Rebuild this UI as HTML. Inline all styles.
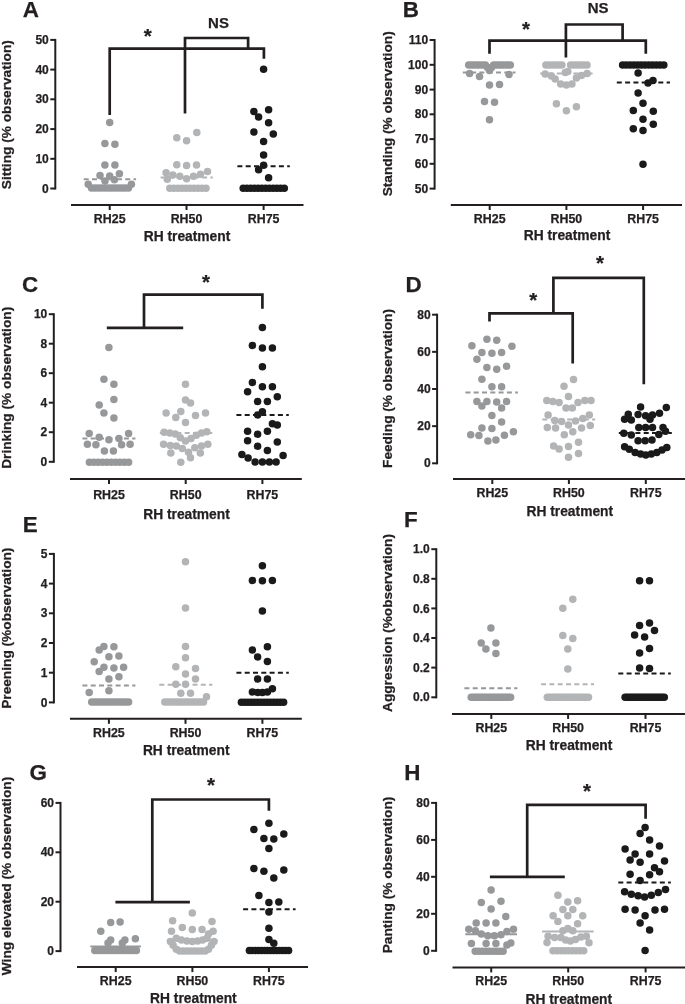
<!DOCTYPE html>
<html><head><meta charset="utf-8"><title>Figure</title>
<style>html,body{margin:0;padding:0;background:#fff}svg{display:block}</style></head>
<body>
<svg width="685" height="1004" viewBox="0 0 685 1004" font-family="'Liberation Sans', sans-serif" font-weight="bold" fill="#231f20" stroke="#231f20" stroke-width="0.25">
<rect width="685" height="1004" fill="#ffffff" stroke="none"/>
<text x="22.8" y="17.3" font-size="22.4">A</text>
<line x1="55.3" y1="38.9" x2="55.3" y2="189.5" stroke="#231f20" stroke-width="2"/>
<line x1="50.3" y1="39.9" x2="55.3" y2="39.9" stroke="#231f20" stroke-width="2"/>
<text x="48.8" y="44.0" font-size="12" text-anchor="end">50</text>
<line x1="50.3" y1="69.6" x2="55.3" y2="69.6" stroke="#231f20" stroke-width="2"/>
<text x="48.8" y="73.69999999999999" font-size="12" text-anchor="end">40</text>
<line x1="50.3" y1="99.3" x2="55.3" y2="99.3" stroke="#231f20" stroke-width="2"/>
<text x="48.8" y="103.39999999999999" font-size="12" text-anchor="end">30</text>
<line x1="50.3" y1="129.1" x2="55.3" y2="129.1" stroke="#231f20" stroke-width="2"/>
<text x="48.8" y="133.2" font-size="12" text-anchor="end">20</text>
<line x1="50.3" y1="158.8" x2="55.3" y2="158.8" stroke="#231f20" stroke-width="2"/>
<text x="48.8" y="162.9" font-size="12" text-anchor="end">10</text>
<line x1="50.3" y1="188.5" x2="55.3" y2="188.5" stroke="#231f20" stroke-width="2"/>
<text x="48.8" y="192.6" font-size="12" text-anchor="end">0</text>
<line x1="71" y1="205" x2="303.5" y2="205" stroke="#231f20" stroke-width="2"/>
<line x1="109.7" y1="205" x2="109.7" y2="210" stroke="#231f20" stroke-width="2"/>
<text x="109.7" y="223" font-size="12.4" text-anchor="middle">RH25</text>
<line x1="186.5" y1="205" x2="186.5" y2="210" stroke="#231f20" stroke-width="2"/>
<text x="186.5" y="223" font-size="12.4" text-anchor="middle">RH50</text>
<line x1="263.6" y1="205" x2="263.6" y2="210" stroke="#231f20" stroke-width="2"/>
<text x="263.6" y="223" font-size="12.4" text-anchor="middle">RH75</text>
<text transform="translate(10.7,114.7) rotate(-90)" font-size="13.7" text-anchor="middle">Sitting (% observation)</text>
<text x="187" y="241.3" font-size="13.8" text-anchor="middle">RH treatment</text>
<g fill="#96989a" stroke="none"><circle cx="109.7" cy="122.4" r="3.75"/><circle cx="104.9" cy="143.6" r="3.75"/><circle cx="114.9" cy="144.3" r="3.75"/><circle cx="104.9" cy="165" r="3.75"/><circle cx="114.9" cy="165" r="3.75"/><circle cx="100" cy="175.5" r="3.75"/><circle cx="109.7" cy="176" r="3.75"/><circle cx="119.4" cy="173.8" r="3.75"/><circle cx="105" cy="181" r="3.75"/><circle cx="114.4" cy="179.8" r="3.75"/><circle cx="88.2" cy="184.3" r="3.75"/><circle cx="131.4" cy="184.3" r="3.75"/><circle cx="91.5" cy="188" r="3.75"/><circle cx="94.86" cy="188" r="3.75"/><circle cx="98.23" cy="188" r="3.75"/><circle cx="101.59" cy="188" r="3.75"/><circle cx="104.95" cy="188" r="3.75"/><circle cx="108.32" cy="188" r="3.75"/><circle cx="111.68" cy="188" r="3.75"/><circle cx="115.05" cy="188" r="3.75"/><circle cx="118.41" cy="188" r="3.75"/><circle cx="121.77" cy="188" r="3.75"/><circle cx="125.14" cy="188" r="3.75"/><circle cx="128.5" cy="188" r="3.75"/></g>
<g fill="#b2b4b6" stroke="none"><circle cx="196.8" cy="132.6" r="3.75"/><circle cx="176.8" cy="137.8" r="3.75"/><circle cx="186.6" cy="140.8" r="3.75"/><circle cx="176.8" cy="164.8" r="3.75"/><circle cx="186.6" cy="165.5" r="3.75"/><circle cx="196.5" cy="165" r="3.75"/><circle cx="166.1" cy="172.8" r="3.75"/><circle cx="172.8" cy="175" r="3.75"/><circle cx="179.8" cy="176.3" r="3.75"/><circle cx="186.6" cy="178.8" r="3.75"/><circle cx="193.5" cy="176.3" r="3.75"/><circle cx="200.5" cy="174.3" r="3.75"/><circle cx="207.5" cy="171.5" r="3.75"/><circle cx="167.3" cy="179.3" r="3.75"/><circle cx="169.8" cy="188.3" r="3.75"/><circle cx="173.82" cy="188.3" r="3.75"/><circle cx="177.84" cy="188.3" r="3.75"/><circle cx="181.87" cy="188.3" r="3.75"/><circle cx="185.89" cy="188.3" r="3.75"/><circle cx="189.91" cy="188.3" r="3.75"/><circle cx="193.93" cy="188.3" r="3.75"/><circle cx="197.96" cy="188.3" r="3.75"/><circle cx="201.98" cy="188.3" r="3.75"/><circle cx="206.0" cy="188.3" r="3.75"/></g>
<g fill="#1a1a1a" stroke="none"><circle cx="263.6" cy="69.2" r="3.75"/><circle cx="253.9" cy="111.6" r="3.75"/><circle cx="268.6" cy="109.8" r="3.75"/><circle cx="258.6" cy="117.1" r="3.75"/><circle cx="268.6" cy="122.8" r="3.75"/><circle cx="253.9" cy="132.1" r="3.75"/><circle cx="273.3" cy="134" r="3.75"/><circle cx="263.6" cy="141.5" r="3.75"/><circle cx="263.6" cy="155" r="3.75"/><circle cx="263.6" cy="165.3" r="3.75"/><circle cx="258.6" cy="169.8" r="3.75"/><circle cx="268.6" cy="177.7" r="3.75"/><circle cx="243.2" cy="188.2" r="3.75"/><circle cx="246.94" cy="188.2" r="3.75"/><circle cx="250.67" cy="188.2" r="3.75"/><circle cx="254.41" cy="188.2" r="3.75"/><circle cx="258.15" cy="188.2" r="3.75"/><circle cx="261.88" cy="188.2" r="3.75"/><circle cx="265.62" cy="188.2" r="3.75"/><circle cx="269.35" cy="188.2" r="3.75"/><circle cx="273.09" cy="188.2" r="3.75"/><circle cx="276.83" cy="188.2" r="3.75"/><circle cx="280.56" cy="188.2" r="3.75"/><circle cx="284.3" cy="188.2" r="3.75"/></g>
<line x1="83.7" y1="179.3" x2="136.1" y2="179.3" stroke="#96989a" stroke-width="2" stroke-dasharray="5 3.3"/>
<line x1="160.6" y1="177.5" x2="212.8" y2="177.5" stroke="#b2b4b6" stroke-width="2" stroke-dasharray="5 3.3"/>
<line x1="237.4" y1="166.3" x2="289.8" y2="166.3" stroke="#1a1a1a" stroke-width="2" stroke-dasharray="5 3.3"/>
<polyline points="109.7,115 109.7,48.7 263.9,48.7 263.9,58.7" fill="none" stroke="#231f20" stroke-width="2.7"/>
<polyline points="185,113.6 185,38 248.1,38 248.1,48.7" fill="none" stroke="#231f20" stroke-width="2.7"/>
<text x="147.8" y="42.8" font-size="20.5" text-anchor="middle">*</text>
<text x="218.5" y="27.5" font-size="15" text-anchor="middle">NS</text>
<text x="402.7" y="17.4" font-size="22.4">B</text>
<line x1="434.6" y1="39" x2="434.6" y2="189.6" stroke="#231f20" stroke-width="2"/>
<line x1="429.6" y1="40" x2="434.6" y2="40" stroke="#231f20" stroke-width="2"/>
<text x="428.1" y="44.1" font-size="12" text-anchor="end">110</text>
<line x1="429.6" y1="64.8" x2="434.6" y2="64.8" stroke="#231f20" stroke-width="2"/>
<text x="428.1" y="68.89999999999999" font-size="12" text-anchor="end">100</text>
<line x1="429.6" y1="89.6" x2="434.6" y2="89.6" stroke="#231f20" stroke-width="2"/>
<text x="428.1" y="93.69999999999999" font-size="12" text-anchor="end">90</text>
<line x1="429.6" y1="114.3" x2="434.6" y2="114.3" stroke="#231f20" stroke-width="2"/>
<text x="428.1" y="118.39999999999999" font-size="12" text-anchor="end">80</text>
<line x1="429.6" y1="139.1" x2="434.6" y2="139.1" stroke="#231f20" stroke-width="2"/>
<text x="428.1" y="143.2" font-size="12" text-anchor="end">70</text>
<line x1="429.6" y1="163.8" x2="434.6" y2="163.8" stroke="#231f20" stroke-width="2"/>
<text x="428.1" y="167.9" font-size="12" text-anchor="end">60</text>
<line x1="429.6" y1="188.6" x2="434.6" y2="188.6" stroke="#231f20" stroke-width="2"/>
<text x="428.1" y="192.7" font-size="12" text-anchor="end">50</text>
<line x1="450.8" y1="205" x2="682" y2="205" stroke="#231f20" stroke-width="2"/>
<line x1="489.7" y1="205" x2="489.7" y2="210" stroke="#231f20" stroke-width="2"/>
<text x="489.7" y="223" font-size="12.4" text-anchor="middle">RH25</text>
<line x1="566.4" y1="205" x2="566.4" y2="210" stroke="#231f20" stroke-width="2"/>
<text x="566.4" y="223" font-size="12.4" text-anchor="middle">RH50</text>
<line x1="643.1" y1="205" x2="643.1" y2="210" stroke="#231f20" stroke-width="2"/>
<text x="643.1" y="223" font-size="12.4" text-anchor="middle">RH75</text>
<text transform="translate(392,113.8) rotate(-90)" font-size="13.7" text-anchor="middle">Standing (% observation)</text>
<text x="567" y="240.2" font-size="13.8" text-anchor="middle">RH treatment</text>
<g fill="#96989a" stroke="none"><circle cx="469.6" cy="73.6" r="3.75"/><circle cx="479.5" cy="76.6" r="3.75"/><circle cx="509" cy="74.4" r="3.75"/><circle cx="489.5" cy="84.9" r="3.75"/><circle cx="499.5" cy="84.4" r="3.75"/><circle cx="484.5" cy="101.6" r="3.75"/><circle cx="494.5" cy="102.3" r="3.75"/><circle cx="489.5" cy="119.8" r="3.75"/><circle cx="489.5" cy="70.6" r="3.75"/><circle cx="487.5" cy="67.5" r="3.75"/><circle cx="491.5" cy="67.5" r="3.75"/><circle cx="468.7" cy="64.9" r="3.75"/><circle cx="471.48" cy="64.9" r="3.75"/><circle cx="474.27" cy="64.9" r="3.75"/><circle cx="477.05" cy="64.9" r="3.75"/><circle cx="479.83" cy="64.9" r="3.75"/><circle cx="482.62" cy="64.9" r="3.75"/><circle cx="485.4" cy="64.9" r="3.75"/><circle cx="493.6" cy="64.9" r="3.75"/><circle cx="496.38" cy="64.9" r="3.75"/><circle cx="499.17" cy="64.9" r="3.75"/><circle cx="501.95" cy="64.9" r="3.75"/><circle cx="504.73" cy="64.9" r="3.75"/><circle cx="507.52" cy="64.9" r="3.75"/><circle cx="510.3" cy="64.9" r="3.75"/></g>
<g fill="#b2b4b6" stroke="none"><circle cx="565.3" cy="72.6" r="3.75"/><circle cx="567.8" cy="71.4" r="3.75"/><circle cx="545.2" cy="74.1" r="3.75"/><circle cx="551.4" cy="76.1" r="3.75"/><circle cx="555.2" cy="79.1" r="3.75"/><circle cx="560.7" cy="84.1" r="3.75"/><circle cx="566.4" cy="84.9" r="3.75"/><circle cx="571.9" cy="84.1" r="3.75"/><circle cx="576.4" cy="77.9" r="3.75"/><circle cx="581.4" cy="75.4" r="3.75"/><circle cx="587.1" cy="73.6" r="3.75"/><circle cx="556.4" cy="103.7" r="3.75"/><circle cx="566.4" cy="110.7" r="3.75"/><circle cx="576.4" cy="106.7" r="3.75"/><circle cx="545.9" cy="64.9" r="3.75"/><circle cx="549.1" cy="64.9" r="3.75"/><circle cx="552.3" cy="64.9" r="3.75"/><circle cx="555.5" cy="64.9" r="3.75"/><circle cx="558.7" cy="64.9" r="3.75"/><circle cx="561.9" cy="64.9" r="3.75"/><circle cx="570.6" cy="64.9" r="3.75"/><circle cx="573.88" cy="64.9" r="3.75"/><circle cx="577.16" cy="64.9" r="3.75"/><circle cx="580.44" cy="64.9" r="3.75"/><circle cx="583.72" cy="64.9" r="3.75"/><circle cx="587.0" cy="64.9" r="3.75"/></g>
<g fill="#1a1a1a" stroke="none"><circle cx="638.1" cy="72.9" r="3.75"/><circle cx="653" cy="80.4" r="3.75"/><circle cx="648" cy="83.1" r="3.75"/><circle cx="638.1" cy="92.9" r="3.75"/><circle cx="643" cy="103.2" r="3.75"/><circle cx="633.3" cy="110.5" r="3.75"/><circle cx="653.3" cy="111.2" r="3.75"/><circle cx="643" cy="119.2" r="3.75"/><circle cx="653.3" cy="124.2" r="3.75"/><circle cx="633.3" cy="128.7" r="3.75"/><circle cx="643" cy="130.5" r="3.75"/><circle cx="643" cy="164.2" r="3.75"/><circle cx="622.6" cy="65" r="3.75"/><circle cx="626.35" cy="65" r="3.75"/><circle cx="630.09" cy="65" r="3.75"/><circle cx="633.84" cy="65" r="3.75"/><circle cx="637.58" cy="65" r="3.75"/><circle cx="641.33" cy="65" r="3.75"/><circle cx="645.07" cy="65" r="3.75"/><circle cx="648.82" cy="65" r="3.75"/><circle cx="652.56" cy="65" r="3.75"/><circle cx="656.31" cy="65" r="3.75"/><circle cx="660.05" cy="65" r="3.75"/><circle cx="663.8" cy="65" r="3.75"/></g>
<line x1="462.8" y1="72.4" x2="515.5" y2="72.4" stroke="#96989a" stroke-width="2" stroke-dasharray="5 3.3"/>
<line x1="540.2" y1="73.6" x2="592.6" y2="73.6" stroke="#b2b4b6" stroke-width="2" stroke-dasharray="5 3.3"/>
<line x1="616.8" y1="82.4" x2="670" y2="82.4" stroke="#1a1a1a" stroke-width="2" stroke-dasharray="5 3.3"/>
<polyline points="489.5,53.7 489.5,40.7 645.8,40.7 645.8,53.7" fill="none" stroke="#231f20" stroke-width="2.7"/>
<polyline points="565.9,57.4 565.9,24.5 622.6,24.5 622.6,40.7" fill="none" stroke="#231f20" stroke-width="2.7"/>
<text x="526" y="35.8" font-size="20.5" text-anchor="middle">*</text>
<text x="598.2" y="13" font-size="15" text-anchor="middle">NS</text>
<text x="22" y="291.7" font-size="22.4">C</text>
<line x1="53.8" y1="313.2" x2="53.8" y2="462.8" stroke="#231f20" stroke-width="2"/>
<line x1="48.8" y1="314.2" x2="53.8" y2="314.2" stroke="#231f20" stroke-width="2"/>
<text x="47.3" y="318.3" font-size="12" text-anchor="end">10</text>
<line x1="48.8" y1="343.7" x2="53.8" y2="343.7" stroke="#231f20" stroke-width="2"/>
<text x="47.3" y="347.8" font-size="12" text-anchor="end">8</text>
<line x1="48.8" y1="373.2" x2="53.8" y2="373.2" stroke="#231f20" stroke-width="2"/>
<text x="47.3" y="377.3" font-size="12" text-anchor="end">6</text>
<line x1="48.8" y1="402.7" x2="53.8" y2="402.7" stroke="#231f20" stroke-width="2"/>
<text x="47.3" y="406.8" font-size="12" text-anchor="end">4</text>
<line x1="48.8" y1="432.2" x2="53.8" y2="432.2" stroke="#231f20" stroke-width="2"/>
<text x="47.3" y="436.3" font-size="12" text-anchor="end">2</text>
<line x1="48.8" y1="461.8" x2="53.8" y2="461.8" stroke="#231f20" stroke-width="2"/>
<text x="47.3" y="465.90000000000003" font-size="12" text-anchor="end">0</text>
<line x1="70" y1="479" x2="301.8" y2="479" stroke="#231f20" stroke-width="2"/>
<line x1="109" y1="479" x2="109" y2="484" stroke="#231f20" stroke-width="2"/>
<text x="109" y="498.7" font-size="12.4" text-anchor="middle">RH25</text>
<line x1="185.7" y1="479" x2="185.7" y2="484" stroke="#231f20" stroke-width="2"/>
<text x="185.7" y="498.7" font-size="12.4" text-anchor="middle">RH50</text>
<line x1="262.4" y1="479" x2="262.4" y2="484" stroke="#231f20" stroke-width="2"/>
<text x="262.4" y="498.7" font-size="12.4" text-anchor="middle">RH75</text>
<text transform="translate(10.6,387.8) rotate(-90)" font-size="13.7" text-anchor="middle">Drinking (% observation)</text>
<text x="186.5" y="518.5" font-size="13.8" text-anchor="middle">RH treatment</text>
<g fill="#96989a" stroke="none"><circle cx="108.9" cy="347.5" r="3.75"/><circle cx="103.9" cy="379.2" r="3.75"/><circle cx="113.9" cy="384.2" r="3.75"/><circle cx="113.9" cy="399.4" r="3.75"/><circle cx="99.2" cy="404.9" r="3.75"/><circle cx="103.9" cy="413.1" r="3.75"/><circle cx="113.9" cy="417.9" r="3.75"/><circle cx="89.2" cy="433.6" r="3.75"/><circle cx="128.6" cy="433.6" r="3.75"/><circle cx="99.2" cy="437.3" r="3.75"/><circle cx="108.9" cy="439.8" r="3.75"/><circle cx="118.9" cy="438.6" r="3.75"/><circle cx="87.4" cy="444.3" r="3.75"/><circle cx="95.9" cy="444.8" r="3.75"/><circle cx="121.6" cy="444.8" r="3.75"/><circle cx="130.1" cy="444.3" r="3.75"/><circle cx="104.4" cy="451.1" r="3.75"/><circle cx="113.4" cy="451.1" r="3.75"/><circle cx="89.4" cy="462.3" r="3.75"/><circle cx="93.76" cy="462.3" r="3.75"/><circle cx="98.11" cy="462.3" r="3.75"/><circle cx="102.47" cy="462.3" r="3.75"/><circle cx="106.82" cy="462.3" r="3.75"/><circle cx="111.18" cy="462.3" r="3.75"/><circle cx="115.53" cy="462.3" r="3.75"/><circle cx="119.89" cy="462.3" r="3.75"/><circle cx="124.24" cy="462.3" r="3.75"/><circle cx="128.6" cy="462.3" r="3.75"/></g>
<g fill="#b2b4b6" stroke="none"><circle cx="185.5" cy="384.2" r="3.75"/><circle cx="185.5" cy="399.9" r="3.75"/><circle cx="190.5" cy="402.9" r="3.75"/><circle cx="166.1" cy="413.1" r="3.75"/><circle cx="180.8" cy="411.4" r="3.75"/><circle cx="175.8" cy="417.4" r="3.75"/><circle cx="195.5" cy="415.4" r="3.75"/><circle cx="205.5" cy="413.1" r="3.75"/><circle cx="185.5" cy="422.4" r="3.75"/><circle cx="164.1" cy="432.3" r="3.75"/><circle cx="169.8" cy="433.1" r="3.75"/><circle cx="175.3" cy="434.1" r="3.75"/><circle cx="180.3" cy="437.8" r="3.75"/><circle cx="185.5" cy="441.1" r="3.75"/><circle cx="191" cy="438.6" r="3.75"/><circle cx="196.3" cy="435.3" r="3.75"/><circle cx="201.5" cy="433.1" r="3.75"/><circle cx="206.8" cy="431.8" r="3.75"/><circle cx="163.6" cy="444.3" r="3.75"/><circle cx="170.3" cy="445.6" r="3.75"/><circle cx="176.3" cy="446.1" r="3.75"/><circle cx="182.3" cy="448.6" r="3.75"/><circle cx="188.5" cy="452.3" r="3.75"/><circle cx="194.8" cy="447.8" r="3.75"/><circle cx="201.5" cy="446.1" r="3.75"/><circle cx="207.8" cy="444.3" r="3.75"/><circle cx="170.8" cy="453.1" r="3.75"/><circle cx="190.5" cy="457.8" r="3.75"/><circle cx="200.3" cy="453.1" r="3.75"/><circle cx="180.8" cy="462.3" r="3.75"/></g>
<g fill="#1a1a1a" stroke="none"><circle cx="262.4" cy="327.4" r="3.75"/><circle cx="252.4" cy="345.4" r="3.75"/><circle cx="262.4" cy="347.9" r="3.75"/><circle cx="272.4" cy="347.9" r="3.75"/><circle cx="262.4" cy="366.8" r="3.75"/><circle cx="252.4" cy="382.4" r="3.75"/><circle cx="262.4" cy="386.7" r="3.75"/><circle cx="272.4" cy="386.7" r="3.75"/><circle cx="247.6" cy="391.7" r="3.75"/><circle cx="277.3" cy="396.7" r="3.75"/><circle cx="257.6" cy="401.6" r="3.75"/><circle cx="267.4" cy="401.6" r="3.75"/><circle cx="262.4" cy="411.7" r="3.75"/><circle cx="257.6" cy="415" r="3.75"/><circle cx="272.4" cy="423.7" r="3.75"/><circle cx="277.3" cy="425" r="3.75"/><circle cx="247.6" cy="431.2" r="3.75"/><circle cx="267.4" cy="431.2" r="3.75"/><circle cx="257.6" cy="434.2" r="3.75"/><circle cx="247.6" cy="440.7" r="3.75"/><circle cx="277.3" cy="441.9" r="3.75"/><circle cx="257.6" cy="446.2" r="3.75"/><circle cx="267.4" cy="450.6" r="3.75"/><circle cx="241.9" cy="454.4" r="3.75"/><circle cx="283.1" cy="455.6" r="3.75"/><circle cx="248.1" cy="457.9" r="3.75"/><circle cx="255.1" cy="461.9" r="3.75"/><circle cx="262.4" cy="461.9" r="3.75"/><circle cx="269.4" cy="461.9" r="3.75"/><circle cx="276.1" cy="461.9" r="3.75"/></g>
<line x1="82.4" y1="438.6" x2="135.4" y2="438.6" stroke="#96989a" stroke-width="2" stroke-dasharray="5 3.3"/>
<line x1="159.8" y1="433.1" x2="212.3" y2="433.1" stroke="#b2b4b6" stroke-width="2" stroke-dasharray="5 3.3"/>
<line x1="236.4" y1="415" x2="288.8" y2="415" stroke="#1a1a1a" stroke-width="2" stroke-dasharray="5 3.3"/>
<polyline points="106.8,327.9 183.2,327.9" fill="none" stroke="#231f20" stroke-width="2.7"/>
<polyline points="144,327.9 144,294.6 262.4,294.6 262.4,308.7" fill="none" stroke="#231f20" stroke-width="2.7"/>
<text x="206" y="288.8" font-size="20.5" text-anchor="middle">*</text>
<text x="405.4" y="291.7" font-size="22.4">D</text>
<line x1="437.1" y1="313.7" x2="437.1" y2="464.3" stroke="#231f20" stroke-width="2"/>
<line x1="432.1" y1="314.7" x2="437.1" y2="314.7" stroke="#231f20" stroke-width="2"/>
<text x="430.6" y="318.8" font-size="12" text-anchor="end">80</text>
<line x1="432.1" y1="351.85" x2="437.1" y2="351.85" stroke="#231f20" stroke-width="2"/>
<text x="430.6" y="355.95000000000005" font-size="12" text-anchor="end">60</text>
<line x1="432.1" y1="389" x2="437.1" y2="389" stroke="#231f20" stroke-width="2"/>
<text x="430.6" y="393.1" font-size="12" text-anchor="end">40</text>
<line x1="432.1" y1="426.15" x2="437.1" y2="426.15" stroke="#231f20" stroke-width="2"/>
<text x="430.6" y="430.25" font-size="12" text-anchor="end">20</text>
<line x1="432.1" y1="463.3" x2="437.1" y2="463.3" stroke="#231f20" stroke-width="2"/>
<text x="430.6" y="467.40000000000003" font-size="12" text-anchor="end">0</text>
<line x1="453" y1="479" x2="685" y2="479" stroke="#231f20" stroke-width="2"/>
<line x1="492.3" y1="479" x2="492.3" y2="484" stroke="#231f20" stroke-width="2"/>
<text x="492.3" y="497.3" font-size="12.4" text-anchor="middle">RH25</text>
<line x1="568.9" y1="479" x2="568.9" y2="484" stroke="#231f20" stroke-width="2"/>
<text x="568.9" y="497.3" font-size="12.4" text-anchor="middle">RH50</text>
<line x1="645.8" y1="479" x2="645.8" y2="484" stroke="#231f20" stroke-width="2"/>
<text x="645.8" y="497.3" font-size="12.4" text-anchor="middle">RH75</text>
<text transform="translate(392,388.5) rotate(-90)" font-size="13.7" text-anchor="middle">Feeding (% observation)</text>
<text x="569.8" y="515.6" font-size="13.8" text-anchor="middle">RH treatment</text>
<g fill="#96989a" stroke="none"><circle cx="486.9" cy="339.2" r="3.75"/><circle cx="496.7" cy="340.2" r="3.75"/><circle cx="471.9" cy="345.7" r="3.75"/><circle cx="511.9" cy="346.2" r="3.75"/><circle cx="481.9" cy="352.5" r="3.75"/><circle cx="491.9" cy="353.2" r="3.75"/><circle cx="501.6" cy="352.5" r="3.75"/><circle cx="476.9" cy="359.2" r="3.75"/><circle cx="486.9" cy="367.4" r="3.75"/><circle cx="496.7" cy="369.2" r="3.75"/><circle cx="506.6" cy="366.2" r="3.75"/><circle cx="481.9" cy="379.2" r="3.75"/><circle cx="491.9" cy="386.7" r="3.75"/><circle cx="501.6" cy="386.7" r="3.75"/><circle cx="476.9" cy="401.6" r="3.75"/><circle cx="486.9" cy="401.6" r="3.75"/><circle cx="496.7" cy="401.9" r="3.75"/><circle cx="506.6" cy="401.6" r="3.75"/><circle cx="481.9" cy="406.1" r="3.75"/><circle cx="501.6" cy="408.1" r="3.75"/><circle cx="491.9" cy="415.4" r="3.75"/><circle cx="501.6" cy="421.9" r="3.75"/><circle cx="481.9" cy="427.9" r="3.75"/><circle cx="491.9" cy="428.6" r="3.75"/><circle cx="470.7" cy="434.8" r="3.75"/><circle cx="478.9" cy="435.6" r="3.75"/><circle cx="504.4" cy="435.3" r="3.75"/><circle cx="513.4" cy="431.8" r="3.75"/><circle cx="487.9" cy="441.1" r="3.75"/><circle cx="495.9" cy="440.1" r="3.75"/></g>
<g fill="#b2b4b6" stroke="none"><circle cx="573.5" cy="379.4" r="3.75"/><circle cx="564" cy="386.2" r="3.75"/><circle cx="568.5" cy="396.6" r="3.75"/><circle cx="546.8" cy="400.4" r="3.75"/><circle cx="552.8" cy="401.6" r="3.75"/><circle cx="559.1" cy="402.4" r="3.75"/><circle cx="578" cy="402.4" r="3.75"/><circle cx="584.8" cy="400.6" r="3.75"/><circle cx="591" cy="400.4" r="3.75"/><circle cx="566" cy="408.1" r="3.75"/><circle cx="572.3" cy="408.1" r="3.75"/><circle cx="548.1" cy="414.9" r="3.75"/><circle cx="589.3" cy="414.9" r="3.75"/><circle cx="554.8" cy="420.4" r="3.75"/><circle cx="561.6" cy="421.6" r="3.75"/><circle cx="575.5" cy="421.1" r="3.75"/><circle cx="582.8" cy="418.6" r="3.75"/><circle cx="547.3" cy="427.4" r="3.75"/><circle cx="555.6" cy="428.1" r="3.75"/><circle cx="568.5" cy="424.9" r="3.75"/><circle cx="581.5" cy="427.9" r="3.75"/><circle cx="590.3" cy="425.6" r="3.75"/><circle cx="572.8" cy="431.8" r="3.75"/><circle cx="564.3" cy="434.8" r="3.75"/><circle cx="578.5" cy="442.3" r="3.75"/><circle cx="553.6" cy="446.1" r="3.75"/><circle cx="559.1" cy="449.1" r="3.75"/><circle cx="568.5" cy="446.6" r="3.75"/><circle cx="578.5" cy="453.6" r="3.75"/><circle cx="568.5" cy="457.3" r="3.75"/></g>
<g fill="#1a1a1a" stroke="none"><circle cx="640.6" cy="407" r="3.75"/><circle cx="666.3" cy="407.5" r="3.75"/><circle cx="628.3" cy="414.2" r="3.75"/><circle cx="638.1" cy="414.4" r="3.75"/><circle cx="645.6" cy="415.7" r="3.75"/><circle cx="652.5" cy="415" r="3.75"/><circle cx="659.5" cy="413.2" r="3.75"/><circle cx="624.6" cy="419.2" r="3.75"/><circle cx="631.3" cy="420" r="3.75"/><circle cx="650" cy="419.2" r="3.75"/><circle cx="638.8" cy="427.4" r="3.75"/><circle cx="645.6" cy="427.4" r="3.75"/><circle cx="652.5" cy="427.4" r="3.75"/><circle cx="663" cy="427.4" r="3.75"/><circle cx="623.8" cy="433.2" r="3.75"/><circle cx="631.3" cy="434.9" r="3.75"/><circle cx="658.8" cy="434.4" r="3.75"/><circle cx="665.5" cy="431.2" r="3.75"/><circle cx="638.1" cy="440.7" r="3.75"/><circle cx="645.1" cy="440.7" r="3.75"/><circle cx="652" cy="439.9" r="3.75"/><circle cx="624.6" cy="446.7" r="3.75"/><circle cx="629.3" cy="449.2" r="3.75"/><circle cx="635.1" cy="452.4" r="3.75"/><circle cx="640.6" cy="454.1" r="3.75"/><circle cx="645.8" cy="454.9" r="3.75"/><circle cx="651.3" cy="454.1" r="3.75"/><circle cx="656.8" cy="452.4" r="3.75"/><circle cx="662" cy="449.9" r="3.75"/><circle cx="666.8" cy="447.4" r="3.75"/></g>
<line x1="465.4" y1="392.4" x2="517.9" y2="392.4" stroke="#96989a" stroke-width="2" stroke-dasharray="5 3.3"/>
<line x1="542.3" y1="419.4" x2="595.2" y2="419.4" stroke="#b2b4b6" stroke-width="2" stroke-dasharray="5 3.3"/>
<line x1="618.8" y1="432.9" x2="671.8" y2="432.9" stroke="#1a1a1a" stroke-width="2" stroke-dasharray="5 3.3"/>
<polyline points="489.5,321.6 489.5,313.3 572.7,313.3 572.7,363.5" fill="none" stroke="#231f20" stroke-width="2.7"/>
<polyline points="553.4,313.3 553.4,277.9 643.8,277.9 643.8,384.2" fill="none" stroke="#231f20" stroke-width="2.7"/>
<text x="600.1" y="269.8" font-size="20.5" text-anchor="middle">*</text>
<text x="533.3" y="307.3" font-size="20.5" text-anchor="middle">*</text>
<text x="22.7" y="532" font-size="22.4">E</text>
<line x1="53.9" y1="552.9" x2="53.9" y2="703.4" stroke="#231f20" stroke-width="2"/>
<line x1="48.9" y1="553.9" x2="53.9" y2="553.9" stroke="#231f20" stroke-width="2"/>
<text x="47.4" y="558.0" font-size="12" text-anchor="end">5</text>
<line x1="48.9" y1="583.6" x2="53.9" y2="583.6" stroke="#231f20" stroke-width="2"/>
<text x="47.4" y="587.7" font-size="12" text-anchor="end">4</text>
<line x1="48.9" y1="613.3" x2="53.9" y2="613.3" stroke="#231f20" stroke-width="2"/>
<text x="47.4" y="617.4" font-size="12" text-anchor="end">3</text>
<line x1="48.9" y1="643" x2="53.9" y2="643" stroke="#231f20" stroke-width="2"/>
<text x="47.4" y="647.1" font-size="12" text-anchor="end">2</text>
<line x1="48.9" y1="672.7" x2="53.9" y2="672.7" stroke="#231f20" stroke-width="2"/>
<text x="47.4" y="676.8000000000001" font-size="12" text-anchor="end">1</text>
<line x1="48.9" y1="702.4" x2="53.9" y2="702.4" stroke="#231f20" stroke-width="2"/>
<text x="47.4" y="706.5" font-size="12" text-anchor="end">0</text>
<line x1="70" y1="718.8" x2="301.8" y2="718.8" stroke="#231f20" stroke-width="2"/>
<line x1="108.9" y1="718.8" x2="108.9" y2="723.8" stroke="#231f20" stroke-width="2"/>
<text x="108.9" y="736.8" font-size="12.4" text-anchor="middle">RH25</text>
<line x1="185.5" y1="718.8" x2="185.5" y2="723.8" stroke="#231f20" stroke-width="2"/>
<text x="185.5" y="736.8" font-size="12.4" text-anchor="middle">RH50</text>
<line x1="262.4" y1="718.8" x2="262.4" y2="723.8" stroke="#231f20" stroke-width="2"/>
<text x="262.4" y="736.8" font-size="12.4" text-anchor="middle">RH75</text>
<text transform="translate(10.6,628.2) rotate(-90)" font-size="13.7" text-anchor="middle">Preening (%observation)</text>
<text x="186.2" y="755" font-size="13.8" text-anchor="middle">RH treatment</text>
<g fill="#96989a" stroke="none"><circle cx="103.9" cy="646.6" r="3.75"/><circle cx="113.9" cy="646.8" r="3.75"/><circle cx="99.2" cy="650.1" r="3.75"/><circle cx="108.9" cy="656.8" r="3.75"/><circle cx="118.9" cy="656.1" r="3.75"/><circle cx="94.2" cy="661.8" r="3.75"/><circle cx="103.9" cy="667.3" r="3.75"/><circle cx="113.9" cy="668.1" r="3.75"/><circle cx="123.6" cy="667.3" r="3.75"/><circle cx="99.2" cy="671.6" r="3.75"/><circle cx="108.9" cy="679" r="3.75"/><circle cx="118.9" cy="676.8" r="3.75"/><circle cx="89.2" cy="692.4" r="3.75"/><circle cx="108.9" cy="690.7" r="3.75"/><circle cx="91.7" cy="702" r="3.75"/><circle cx="94.54" cy="702" r="3.75"/><circle cx="97.38" cy="702" r="3.75"/><circle cx="100.22" cy="702" r="3.75"/><circle cx="103.05" cy="702" r="3.75"/><circle cx="105.89" cy="702" r="3.75"/><circle cx="108.73" cy="702" r="3.75"/><circle cx="111.57" cy="702" r="3.75"/><circle cx="114.41" cy="702" r="3.75"/><circle cx="117.25" cy="702" r="3.75"/><circle cx="120.08" cy="702" r="3.75"/><circle cx="122.92" cy="702" r="3.75"/><circle cx="125.76" cy="702" r="3.75"/><circle cx="128.6" cy="702" r="3.75"/></g>
<g fill="#b2b4b6" stroke="none"><circle cx="185.5" cy="561.7" r="3.75"/><circle cx="185.5" cy="607.9" r="3.75"/><circle cx="185.5" cy="646.6" r="3.75"/><circle cx="185.5" cy="657.8" r="3.75"/><circle cx="175.8" cy="666.8" r="3.75"/><circle cx="195.5" cy="668.6" r="3.75"/><circle cx="185.5" cy="674" r="3.75"/><circle cx="195.5" cy="679" r="3.75"/><circle cx="175.8" cy="684.3" r="3.75"/><circle cx="185.5" cy="684.3" r="3.75"/><circle cx="180.8" cy="693.2" r="3.75"/><circle cx="190.5" cy="693.2" r="3.75"/><circle cx="206.5" cy="696.7" r="3.75"/><circle cx="164.8" cy="702" r="3.75"/><circle cx="167.78" cy="702" r="3.75"/><circle cx="170.75" cy="702" r="3.75"/><circle cx="173.73" cy="702" r="3.75"/><circle cx="176.71" cy="702" r="3.75"/><circle cx="179.68" cy="702" r="3.75"/><circle cx="182.66" cy="702" r="3.75"/><circle cx="185.64" cy="702" r="3.75"/><circle cx="188.62" cy="702" r="3.75"/><circle cx="191.59" cy="702" r="3.75"/><circle cx="194.57" cy="702" r="3.75"/><circle cx="197.55" cy="702" r="3.75"/><circle cx="200.52" cy="702" r="3.75"/><circle cx="203.5" cy="702" r="3.75"/></g>
<g fill="#1a1a1a" stroke="none"><circle cx="262.4" cy="565.7" r="3.75"/><circle cx="252.4" cy="580.4" r="3.75"/><circle cx="262.4" cy="580.7" r="3.75"/><circle cx="272.4" cy="580.4" r="3.75"/><circle cx="262.4" cy="611.1" r="3.75"/><circle cx="267.4" cy="646.8" r="3.75"/><circle cx="252.4" cy="650.1" r="3.75"/><circle cx="257.6" cy="656.9" r="3.75"/><circle cx="267.4" cy="661.6" r="3.75"/><circle cx="257.6" cy="679.1" r="3.75"/><circle cx="267.4" cy="679.1" r="3.75"/><circle cx="252.4" cy="691.9" r="3.75"/><circle cx="257.6" cy="692.4" r="3.75"/><circle cx="262.4" cy="692.4" r="3.75"/><circle cx="267.4" cy="691.9" r="3.75"/><circle cx="272.4" cy="688.7" r="3.75"/><circle cx="241.4" cy="702.2" r="3.75"/><circle cx="244.65" cy="702.2" r="3.75"/><circle cx="247.89" cy="702.2" r="3.75"/><circle cx="251.14" cy="702.2" r="3.75"/><circle cx="254.38" cy="702.2" r="3.75"/><circle cx="257.63" cy="702.2" r="3.75"/><circle cx="260.88" cy="702.2" r="3.75"/><circle cx="264.12" cy="702.2" r="3.75"/><circle cx="267.37" cy="702.2" r="3.75"/><circle cx="270.62" cy="702.2" r="3.75"/><circle cx="273.86" cy="702.2" r="3.75"/><circle cx="277.11" cy="702.2" r="3.75"/><circle cx="280.35" cy="702.2" r="3.75"/><circle cx="283.6" cy="702.2" r="3.75"/></g>
<line x1="82.4" y1="685.6" x2="135.4" y2="685.6" stroke="#96989a" stroke-width="2" stroke-dasharray="5 3.3"/>
<line x1="159.3" y1="684.8" x2="212.3" y2="684.8" stroke="#b2b4b6" stroke-width="2" stroke-dasharray="5 3.3"/>
<line x1="236.4" y1="672.7" x2="288.8" y2="672.7" stroke="#1a1a1a" stroke-width="2" stroke-dasharray="5 3.3"/>
<text x="404.1" y="526.8" font-size="22.4">F</text>
<line x1="436.3" y1="548.2" x2="436.3" y2="698.3" stroke="#231f20" stroke-width="2"/>
<line x1="431.3" y1="549.2" x2="436.3" y2="549.2" stroke="#231f20" stroke-width="2"/>
<text x="429.8" y="553.3000000000001" font-size="12" text-anchor="end">1.0</text>
<line x1="431.3" y1="578.8" x2="436.3" y2="578.8" stroke="#231f20" stroke-width="2"/>
<text x="429.8" y="582.9" font-size="12" text-anchor="end">0.8</text>
<line x1="431.3" y1="608.4" x2="436.3" y2="608.4" stroke="#231f20" stroke-width="2"/>
<text x="429.8" y="612.5" font-size="12" text-anchor="end">0.6</text>
<line x1="431.3" y1="638" x2="436.3" y2="638" stroke="#231f20" stroke-width="2"/>
<text x="429.8" y="642.1" font-size="12" text-anchor="end">0.4</text>
<line x1="431.3" y1="667.6" x2="436.3" y2="667.6" stroke="#231f20" stroke-width="2"/>
<text x="429.8" y="671.7" font-size="12" text-anchor="end">0.2</text>
<line x1="431.3" y1="697.3" x2="436.3" y2="697.3" stroke="#231f20" stroke-width="2"/>
<text x="429.8" y="701.4" font-size="12" text-anchor="end">0.0</text>
<line x1="452" y1="713.9" x2="685" y2="713.9" stroke="#231f20" stroke-width="2"/>
<line x1="491.3" y1="713.9" x2="491.3" y2="718.9" stroke="#231f20" stroke-width="2"/>
<text x="491.3" y="732" font-size="12.4" text-anchor="middle">RH25</text>
<line x1="568.1" y1="713.9" x2="568.1" y2="718.9" stroke="#231f20" stroke-width="2"/>
<text x="568.1" y="732" font-size="12.4" text-anchor="middle">RH50</text>
<line x1="645.5" y1="713.9" x2="645.5" y2="718.9" stroke="#231f20" stroke-width="2"/>
<text x="645.5" y="732" font-size="12.4" text-anchor="middle">RH75</text>
<text transform="translate(392,623) rotate(-90)" font-size="13.7" text-anchor="middle">Aggression (%observation)</text>
<text x="569.1" y="749.5" font-size="13.8" text-anchor="middle">RH treatment</text>
<g fill="#96989a" stroke="none"><circle cx="490.9" cy="627.9" r="3.75"/><circle cx="481.2" cy="642.9" r="3.75"/><circle cx="495.9" cy="642.9" r="3.75"/><circle cx="485.9" cy="648.9" r="3.75"/><circle cx="495.9" cy="653.6" r="3.75"/><circle cx="471.2" cy="697.3" r="3.75"/><circle cx="473.27" cy="697.3" r="3.75"/><circle cx="475.35" cy="697.3" r="3.75"/><circle cx="477.42" cy="697.3" r="3.75"/><circle cx="479.49" cy="697.3" r="3.75"/><circle cx="481.57" cy="697.3" r="3.75"/><circle cx="483.64" cy="697.3" r="3.75"/><circle cx="485.72" cy="697.3" r="3.75"/><circle cx="487.79" cy="697.3" r="3.75"/><circle cx="489.86" cy="697.3" r="3.75"/><circle cx="491.94" cy="697.3" r="3.75"/><circle cx="494.01" cy="697.3" r="3.75"/><circle cx="496.08" cy="697.3" r="3.75"/><circle cx="498.16" cy="697.3" r="3.75"/><circle cx="500.23" cy="697.3" r="3.75"/><circle cx="502.31" cy="697.3" r="3.75"/><circle cx="504.38" cy="697.3" r="3.75"/><circle cx="506.45" cy="697.3" r="3.75"/><circle cx="508.53" cy="697.3" r="3.75"/><circle cx="510.6" cy="697.3" r="3.75"/></g>
<g fill="#b2b4b6" stroke="none"><circle cx="572.8" cy="599.2" r="3.75"/><circle cx="562.8" cy="608.2" r="3.75"/><circle cx="562.8" cy="635.4" r="3.75"/><circle cx="572.8" cy="638.4" r="3.75"/><circle cx="567.8" cy="648.9" r="3.75"/><circle cx="567.8" cy="669.1" r="3.75"/><circle cx="547.3" cy="697.3" r="3.75"/><circle cx="549.47" cy="697.3" r="3.75"/><circle cx="551.64" cy="697.3" r="3.75"/><circle cx="553.81" cy="697.3" r="3.75"/><circle cx="555.97" cy="697.3" r="3.75"/><circle cx="558.14" cy="697.3" r="3.75"/><circle cx="560.31" cy="697.3" r="3.75"/><circle cx="562.48" cy="697.3" r="3.75"/><circle cx="564.65" cy="697.3" r="3.75"/><circle cx="566.82" cy="697.3" r="3.75"/><circle cx="568.98" cy="697.3" r="3.75"/><circle cx="571.15" cy="697.3" r="3.75"/><circle cx="573.32" cy="697.3" r="3.75"/><circle cx="575.49" cy="697.3" r="3.75"/><circle cx="577.66" cy="697.3" r="3.75"/><circle cx="579.83" cy="697.3" r="3.75"/><circle cx="581.99" cy="697.3" r="3.75"/><circle cx="584.16" cy="697.3" r="3.75"/><circle cx="586.33" cy="697.3" r="3.75"/><circle cx="588.5" cy="697.3" r="3.75"/></g>
<g fill="#1a1a1a" stroke="none"><circle cx="639.6" cy="580.7" r="3.75"/><circle cx="649.5" cy="580.7" r="3.75"/><circle cx="649.5" cy="622.9" r="3.75"/><circle cx="639.6" cy="625.4" r="3.75"/><circle cx="654.5" cy="630.4" r="3.75"/><circle cx="634.6" cy="634.9" r="3.75"/><circle cx="644.6" cy="636.9" r="3.75"/><circle cx="649.5" cy="648.4" r="3.75"/><circle cx="639.6" cy="653.1" r="3.75"/><circle cx="639.6" cy="668.1" r="3.75"/><circle cx="649.5" cy="668.6" r="3.75"/><circle cx="625.1" cy="697.3" r="3.75"/><circle cx="627.16" cy="697.3" r="3.75"/><circle cx="629.23" cy="697.3" r="3.75"/><circle cx="631.29" cy="697.3" r="3.75"/><circle cx="633.35" cy="697.3" r="3.75"/><circle cx="635.42" cy="697.3" r="3.75"/><circle cx="637.48" cy="697.3" r="3.75"/><circle cx="639.54" cy="697.3" r="3.75"/><circle cx="641.61" cy="697.3" r="3.75"/><circle cx="643.67" cy="697.3" r="3.75"/><circle cx="645.73" cy="697.3" r="3.75"/><circle cx="647.79" cy="697.3" r="3.75"/><circle cx="649.86" cy="697.3" r="3.75"/><circle cx="651.92" cy="697.3" r="3.75"/><circle cx="653.98" cy="697.3" r="3.75"/><circle cx="656.05" cy="697.3" r="3.75"/><circle cx="658.11" cy="697.3" r="3.75"/><circle cx="660.17" cy="697.3" r="3.75"/><circle cx="662.24" cy="697.3" r="3.75"/><circle cx="664.3" cy="697.3" r="3.75"/></g>
<line x1="464.4" y1="688.3" x2="517.4" y2="688.3" stroke="#96989a" stroke-width="2" stroke-dasharray="5 3.3"/>
<line x1="541.1" y1="684.3" x2="594" y2="684.3" stroke="#b2b4b6" stroke-width="2" stroke-dasharray="5 3.3"/>
<line x1="618.3" y1="673.6" x2="670.8" y2="673.6" stroke="#1a1a1a" stroke-width="2" stroke-dasharray="5 3.3"/>
<text x="29.5" y="780" font-size="22.4">G</text>
<line x1="60.5" y1="801.9" x2="60.5" y2="952.1" stroke="#231f20" stroke-width="2"/>
<line x1="55.5" y1="802.9" x2="60.5" y2="802.9" stroke="#231f20" stroke-width="2"/>
<text x="54.0" y="807.0" font-size="12" text-anchor="end">60</text>
<line x1="55.5" y1="852.3" x2="60.5" y2="852.3" stroke="#231f20" stroke-width="2"/>
<text x="54.0" y="856.4" font-size="12" text-anchor="end">40</text>
<line x1="55.5" y1="901.7" x2="60.5" y2="901.7" stroke="#231f20" stroke-width="2"/>
<text x="54.0" y="905.8000000000001" font-size="12" text-anchor="end">20</text>
<line x1="55.5" y1="951.1" x2="60.5" y2="951.1" stroke="#231f20" stroke-width="2"/>
<text x="54.0" y="955.2" font-size="12" text-anchor="end">0</text>
<line x1="77" y1="967.1" x2="308" y2="967.1" stroke="#231f20" stroke-width="2"/>
<line x1="115.7" y1="967.1" x2="115.7" y2="972.1" stroke="#231f20" stroke-width="2"/>
<text x="115.7" y="984.8" font-size="12.4" text-anchor="middle">RH25</text>
<line x1="192.4" y1="967.1" x2="192.4" y2="972.1" stroke="#231f20" stroke-width="2"/>
<text x="192.4" y="984.8" font-size="12.4" text-anchor="middle">RH50</text>
<line x1="268.9" y1="967.1" x2="268.9" y2="972.1" stroke="#231f20" stroke-width="2"/>
<text x="268.9" y="984.8" font-size="12.4" text-anchor="middle">RH75</text>
<text transform="translate(10.6,876) rotate(-90)" font-size="13.7" text-anchor="middle">Wing elevated (% observation)</text>
<text x="193.4" y="1003" font-size="13.8" text-anchor="middle">RH treatment</text>
<g fill="#96989a" stroke="none"><circle cx="110.7" cy="922.6" r="3.75"/><circle cx="120.1" cy="921.9" r="3.75"/><circle cx="100.8" cy="931.3" r="3.75"/><circle cx="135.4" cy="938.8" r="3.75"/><circle cx="110.7" cy="939.9" r="3.75"/><circle cx="124.9" cy="939.9" r="3.75"/><circle cx="108" cy="943.1" r="3.75"/><circle cx="122.3" cy="943.1" r="3.75"/><circle cx="94.8" cy="950.4" r="3.75"/><circle cx="97.57" cy="950.4" r="3.75"/><circle cx="100.35" cy="950.4" r="3.75"/><circle cx="103.12" cy="950.4" r="3.75"/><circle cx="105.89" cy="950.4" r="3.75"/><circle cx="108.67" cy="950.4" r="3.75"/><circle cx="111.44" cy="950.4" r="3.75"/><circle cx="114.21" cy="950.4" r="3.75"/><circle cx="116.99" cy="950.4" r="3.75"/><circle cx="119.76" cy="950.4" r="3.75"/><circle cx="122.53" cy="950.4" r="3.75"/><circle cx="125.31" cy="950.4" r="3.75"/><circle cx="128.08" cy="950.4" r="3.75"/><circle cx="130.85" cy="950.4" r="3.75"/><circle cx="133.63" cy="950.4" r="3.75"/><circle cx="136.4" cy="950.4" r="3.75"/></g>
<g fill="#b2b4b6" stroke="none"><circle cx="192.3" cy="913.1" r="3.75"/><circle cx="172.6" cy="920.8" r="3.75"/><circle cx="212" cy="921.5" r="3.75"/><circle cx="182.3" cy="927.4" r="3.75"/><circle cx="192.3" cy="929.6" r="3.75"/><circle cx="202" cy="929.6" r="3.75"/><circle cx="171.5" cy="931.3" r="3.75"/><circle cx="213.1" cy="931.3" r="3.75"/><circle cx="208.5" cy="933.9" r="3.75"/><circle cx="176.3" cy="938.2" r="3.75"/><circle cx="181.4" cy="940" r="3.75"/><circle cx="186.9" cy="941.1" r="3.75"/><circle cx="192.3" cy="941.5" r="3.75"/><circle cx="197.6" cy="941.1" r="3.75"/><circle cx="202.6" cy="940" r="3.75"/><circle cx="207" cy="938.2" r="3.75"/><circle cx="170.4" cy="941.6" r="3.75"/><circle cx="214" cy="941.6" r="3.75"/><circle cx="173.1" cy="945.3" r="3.75"/><circle cx="211.4" cy="945.3" r="3.75"/><circle cx="176.3" cy="949.3" r="3.75"/><circle cx="208.5" cy="949.3" r="3.75"/><circle cx="179.6" cy="951" r="3.75"/><circle cx="183.26" cy="951" r="3.75"/><circle cx="186.91" cy="951" r="3.75"/><circle cx="190.57" cy="951" r="3.75"/><circle cx="194.23" cy="951" r="3.75"/><circle cx="197.89" cy="951" r="3.75"/><circle cx="201.54" cy="951" r="3.75"/><circle cx="205.2" cy="951" r="3.75"/></g>
<g fill="#1a1a1a" stroke="none"><circle cx="268.9" cy="823.2" r="3.75"/><circle cx="253.9" cy="829.4" r="3.75"/><circle cx="283.8" cy="834.1" r="3.75"/><circle cx="263.9" cy="838.4" r="3.75"/><circle cx="273.8" cy="838.9" r="3.75"/><circle cx="268.9" cy="848.6" r="3.75"/><circle cx="253.9" cy="868.6" r="3.75"/><circle cx="283.8" cy="870.1" r="3.75"/><circle cx="263.9" cy="871.3" r="3.75"/><circle cx="273.8" cy="878.1" r="3.75"/><circle cx="258.9" cy="895.5" r="3.75"/><circle cx="268.9" cy="902.4" r="3.75"/><circle cx="278.8" cy="901.9" r="3.75"/><circle cx="268.9" cy="912" r="3.75"/><circle cx="268.9" cy="928.2" r="3.75"/><circle cx="268.9" cy="939.4" r="3.75"/><circle cx="273.8" cy="943.2" r="3.75"/><circle cx="249.4" cy="950.6" r="3.75"/><circle cx="252.42" cy="950.6" r="3.75"/><circle cx="255.43" cy="950.6" r="3.75"/><circle cx="258.45" cy="950.6" r="3.75"/><circle cx="261.46" cy="950.6" r="3.75"/><circle cx="264.48" cy="950.6" r="3.75"/><circle cx="267.49" cy="950.6" r="3.75"/><circle cx="270.51" cy="950.6" r="3.75"/><circle cx="273.52" cy="950.6" r="3.75"/><circle cx="276.54" cy="950.6" r="3.75"/><circle cx="279.55" cy="950.6" r="3.75"/><circle cx="282.57" cy="950.6" r="3.75"/><circle cx="285.58" cy="950.6" r="3.75"/><circle cx="288.6" cy="950.6" r="3.75"/></g>
<line x1="90.3" y1="946.4" x2="140.9" y2="946.4" stroke="#96989a" stroke-width="2"/>
<line x1="166.9" y1="940.5" x2="217.5" y2="940.5" stroke="#b2b4b6" stroke-width="2"/>
<line x1="243.1" y1="909.3" x2="295.6" y2="909.3" stroke="#1a1a1a" stroke-width="2" stroke-dasharray="5 3.3"/>
<polyline points="115.4,902.1 189.9,902.1" fill="none" stroke="#231f20" stroke-width="2.7"/>
<polyline points="152.3,902.1 152.3,799.5 268.9,799.5 268.9,810.8" fill="none" stroke="#231f20" stroke-width="2.7"/>
<text x="211.1" y="791.8" font-size="20.5" text-anchor="middle">*</text>
<text x="404.2" y="780" font-size="22.4">H</text>
<line x1="436.1" y1="801.9" x2="436.1" y2="951.8" stroke="#231f20" stroke-width="2"/>
<line x1="431.1" y1="802.9" x2="436.1" y2="802.9" stroke="#231f20" stroke-width="2"/>
<text x="429.6" y="807.0" font-size="12" text-anchor="end">80</text>
<line x1="431.1" y1="839.9" x2="436.1" y2="839.9" stroke="#231f20" stroke-width="2"/>
<text x="429.6" y="844.0" font-size="12" text-anchor="end">60</text>
<line x1="431.1" y1="876.8" x2="436.1" y2="876.8" stroke="#231f20" stroke-width="2"/>
<text x="429.6" y="880.9" font-size="12" text-anchor="end">40</text>
<line x1="431.1" y1="913.8" x2="436.1" y2="913.8" stroke="#231f20" stroke-width="2"/>
<text x="429.6" y="917.9" font-size="12" text-anchor="end">20</text>
<line x1="431.1" y1="950.8" x2="436.1" y2="950.8" stroke="#231f20" stroke-width="2"/>
<text x="429.6" y="954.9" font-size="12" text-anchor="end">0</text>
<line x1="452.5" y1="967.4" x2="685" y2="967.4" stroke="#231f20" stroke-width="2"/>
<line x1="491.2" y1="967.4" x2="491.2" y2="972.4" stroke="#231f20" stroke-width="2"/>
<text x="491.2" y="984.8" font-size="12.4" text-anchor="middle">RH25</text>
<line x1="568.2" y1="967.4" x2="568.2" y2="972.4" stroke="#231f20" stroke-width="2"/>
<text x="568.2" y="984.8" font-size="12.4" text-anchor="middle">RH50</text>
<line x1="645.6" y1="967.4" x2="645.6" y2="972.4" stroke="#231f20" stroke-width="2"/>
<text x="645.6" y="984.8" font-size="12.4" text-anchor="middle">RH75</text>
<text transform="translate(392,875) rotate(-90)" font-size="13.7" text-anchor="middle">Panting (% observation)</text>
<text x="568.8" y="1003.5" font-size="13.8" text-anchor="middle">RH treatment</text>
<g fill="#96989a" stroke="none"><circle cx="491.1" cy="889.9" r="3.75"/><circle cx="481.3" cy="902.6" r="3.75"/><circle cx="501" cy="901.2" r="3.75"/><circle cx="491.1" cy="909.1" r="3.75"/><circle cx="505.8" cy="916.6" r="3.75"/><circle cx="476.2" cy="923.1" r="3.75"/><circle cx="486.1" cy="923.1" r="3.75"/><circle cx="495.9" cy="923.1" r="3.75"/><circle cx="468.8" cy="929.3" r="3.75"/><circle cx="513.5" cy="929.3" r="3.75"/><circle cx="475.4" cy="930.8" r="3.75"/><circle cx="506.9" cy="931.5" r="3.75"/><circle cx="481.3" cy="934.1" r="3.75"/><circle cx="487.8" cy="935.8" r="3.75"/><circle cx="494.4" cy="935.8" r="3.75"/><circle cx="501" cy="934.7" r="3.75"/><circle cx="471.4" cy="943.5" r="3.75"/><circle cx="486.1" cy="943.5" r="3.75"/><circle cx="495.9" cy="943.5" r="3.75"/><circle cx="510.8" cy="943.1" r="3.75"/><circle cx="506.9" cy="945" r="3.75"/><circle cx="475.2" cy="951.2" r="3.75"/><circle cx="478.69" cy="951.2" r="3.75"/><circle cx="482.18" cy="951.2" r="3.75"/><circle cx="485.66" cy="951.2" r="3.75"/><circle cx="489.15" cy="951.2" r="3.75"/><circle cx="492.64" cy="951.2" r="3.75"/><circle cx="496.12" cy="951.2" r="3.75"/><circle cx="499.61" cy="951.2" r="3.75"/><circle cx="503.1" cy="951.2" r="3.75"/></g>
<g fill="#b2b4b6" stroke="none"><circle cx="557.9" cy="895.3" r="3.75"/><circle cx="567.8" cy="901.9" r="3.75"/><circle cx="577.6" cy="900.8" r="3.75"/><circle cx="562.9" cy="909.6" r="3.75"/><circle cx="572.8" cy="909.6" r="3.75"/><circle cx="553.1" cy="915.7" r="3.75"/><circle cx="567.8" cy="915.7" r="3.75"/><circle cx="582.7" cy="915.7" r="3.75"/><circle cx="557.9" cy="921.6" r="3.75"/><circle cx="577.6" cy="923.8" r="3.75"/><circle cx="567.8" cy="928.6" r="3.75"/><circle cx="562.9" cy="930.8" r="3.75"/><circle cx="572.8" cy="930.8" r="3.75"/><circle cx="548.1" cy="936.3" r="3.75"/><circle cx="554.6" cy="937.4" r="3.75"/><circle cx="560.8" cy="937.4" r="3.75"/><circle cx="565.6" cy="940" r="3.75"/><circle cx="570.4" cy="941" r="3.75"/><circle cx="575.4" cy="939.6" r="3.75"/><circle cx="580.9" cy="936.9" r="3.75"/><circle cx="586.4" cy="936.3" r="3.75"/><circle cx="547" cy="942.4" r="3.75"/><circle cx="589" cy="942.8" r="3.75"/><circle cx="553.0" cy="950.8" r="3.75"/><circle cx="556.84" cy="950.8" r="3.75"/><circle cx="560.67" cy="950.8" r="3.75"/><circle cx="564.51" cy="950.8" r="3.75"/><circle cx="568.35" cy="950.8" r="3.75"/><circle cx="572.19" cy="950.8" r="3.75"/><circle cx="576.03" cy="950.8" r="3.75"/><circle cx="579.86" cy="950.8" r="3.75"/><circle cx="583.7" cy="950.8" r="3.75"/></g>
<g fill="#1a1a1a" stroke="none"><circle cx="645.1" cy="827.4" r="3.75"/><circle cx="640.1" cy="833.6" r="3.75"/><circle cx="649.6" cy="839.9" r="3.75"/><circle cx="659.5" cy="846.1" r="3.75"/><circle cx="625.1" cy="849.1" r="3.75"/><circle cx="635.1" cy="854.1" r="3.75"/><circle cx="649.6" cy="854.1" r="3.75"/><circle cx="630.1" cy="859.9" r="3.75"/><circle cx="640.1" cy="862.3" r="3.75"/><circle cx="664.5" cy="861.1" r="3.75"/><circle cx="654.5" cy="867.8" r="3.75"/><circle cx="659.5" cy="871.8" r="3.75"/><circle cx="630.1" cy="874.3" r="3.75"/><circle cx="649.6" cy="874.8" r="3.75"/><circle cx="640.1" cy="880.6" r="3.75"/><circle cx="624.6" cy="891.8" r="3.75"/><circle cx="631.3" cy="894.2" r="3.75"/><circle cx="638.1" cy="895.8" r="3.75"/><circle cx="644.6" cy="896.9" r="3.75"/><circle cx="651.3" cy="895.2" r="3.75"/><circle cx="658.3" cy="892.4" r="3.75"/><circle cx="665.5" cy="889.4" r="3.75"/><circle cx="625.1" cy="909.2" r="3.75"/><circle cx="635.1" cy="909.9" r="3.75"/><circle cx="655" cy="909.9" r="3.75"/><circle cx="664.5" cy="909.2" r="3.75"/><circle cx="645.1" cy="915.7" r="3.75"/><circle cx="640.1" cy="922.9" r="3.75"/><circle cx="649.6" cy="929.9" r="3.75"/><circle cx="645.1" cy="950.6" r="3.75"/></g>
<line x1="465.3" y1="934.3" x2="517" y2="934.3" stroke="#96989a" stroke-width="2"/>
<line x1="542.1" y1="931.5" x2="593.6" y2="931.5" stroke="#b2b4b6" stroke-width="2"/>
<line x1="618.3" y1="882.6" x2="670.8" y2="882.6" stroke="#1a1a1a" stroke-width="2" stroke-dasharray="5 3.3"/>
<polyline points="489.9,876.8 564.8,876.8" fill="none" stroke="#231f20" stroke-width="2.7"/>
<polyline points="527.2,876.8 527.2,804.9 645.6,804.9 645.6,818.7" fill="none" stroke="#231f20" stroke-width="2.7"/>
<text x="586.9" y="797.8" font-size="20.5" text-anchor="middle">*</text>
</svg>
</body></html>
